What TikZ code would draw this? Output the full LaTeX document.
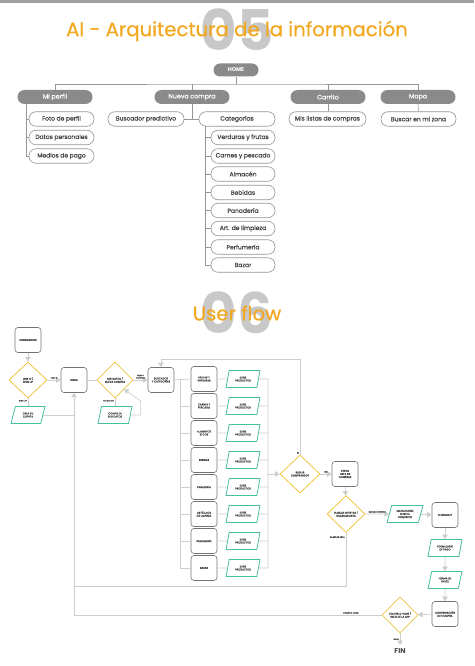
\documentclass[tikz,border=0pt]{standalone}
\usepackage{fontspec}
\setmainfont{Poppins}[UprightFeatures={FakeBold=0.5}]
\usetikzlibrary{shapes.geometric, arrows.meta}
\definecolor{titleor}{RGB}{242,168,32}
\definecolor{numgray}{RGB}{200,200,200}
\definecolor{pillgray}{RGB}{138,138,138}
\definecolor{edgegray}{RGB}{150,150,150}
\definecolor{flowline}{RGB}{205,205,205}
\definecolor{boxgray}{RGB}{115,115,115}
\definecolor{decgold}{RGB}{240,196,64}
\definecolor{ioteal}{RGB}{72,190,160}
\definecolor{txtgray}{RGB}{70,70,70}

\begin{document}
\begin{tikzpicture}[x=1pt,y=-1pt,
  tree/.style={draw=edgegray, line width=0.6},
  toppill/.style={fill=pillgray, text=white, rounded corners=6.5, minimum width=45, minimum height=13, inner sep=1, font=\fontsize{5.5}{6}\selectfont\bfseries},
  sect/.style={fill=pillgray, text=white, rounded corners=7, minimum width=75, minimum height=14, inner sep=1, font=\fontsize{6.3}{7}\selectfont},
  leaf/.style={draw=edgegray, line width=0.6, fill=white, text=txtgray, rounded corners=7, minimum width=64, minimum height=14.5, inner sep=1, font=\fontsize{6}{7}\selectfont},
  proc/.style={draw=boxgray, line width=0.6, rounded corners=3, minimum width=26, minimum height=25, inner sep=0.5, align=center, text=txtgray, font=\fontsize{2.6}{3.1}\selectfont},
  dec/.style={diamond, draw=decgold, line width=0.8, minimum width=38, minimum height=36, inner sep=0, align=center, text=txtgray, font=\fontsize{2.6}{3.1}\selectfont},
  io/.style={trapezium, trapezium left angle=70, trapezium right angle=110, trapezium stretches=true, draw=ioteal, line width=0.8, minimum width=34, minimum height=17, inner sep=0, align=center, text=txtgray, font=\fontsize{2.6}{3.1}\selectfont},
  flw/.style={draw=flowline, line width=0.7},
  flarr/.style={flw, -{Triangle[length=4.5,width=5.5]}},
  lab/.style={text=txtgray, inner sep=1, align=center, font=\fontsize{2}{2.4}\selectfont},
  bignum/.style={text=numgray, inner sep=0, text depth=0, font=\fontsize{56}{56}\selectfont\bfseries},
  ttl/.style={text=titleor, inner sep=0, font=\fontsize{19.7}{21}\selectfont}]
\useasboundingbox (0,0) rectangle (474,666);
%top strip
\fill[gray!75] (0,0) rectangle (474,3);

%Title 05
\node[bignum] (num05) at (237,30) {05};
\node[ttl] (title05) at (237,31) {AI - Arquitectura de la información};

%Tree: home and sections
\node[toppill] (home) at (236,70) {HOME};
\node[sect] (perfil) at (55,97) {Mi perfil};
\node[sect] (compra) at (192,97) {Nueva compra};
\node[sect] (carrito) at (328,97) {Carrito};
\node[sect] (mapa) at (418,97) {Mapa};
\coordinate (bar) at (236,84);
\draw[tree] (home.south) -- (bar);
\draw[tree] (perfil.north) |- (bar) -| (mapa.north);
\draw[tree] (compra.north) -- (compra.north |- bar);
\draw[tree] (carrito.north) -- (carrito.north |- bar);

%Mi perfil
\node[leaf, minimum width=65] (foto) at (61.5,119) {Foto de perfil};
\node[leaf, minimum width=65] (datos) at (61.5,137.5) {Datos personales};
\node[leaf, minimum width=65] (medios) at (61.5,156) {Medios de pago};
\coordinate (pf) at (26,104);
\draw[tree] (pf) |- (medios.west);
\draw[tree] (pf |- foto) -- (foto.west);
\draw[tree] (pf |- datos) -- (datos.west);

%Nueva compra
\node[leaf, minimum width=76] (busc) at (146,119) {Buscador predictivo};
\node[leaf, minimum width=76] (categ) at (237,119) {Categorías};
\draw[tree] (compra.south) -- (compra.south |- categ);
\draw[tree] (busc.east) -- (categ.west);

%Categorias
\node[leaf] (verd) at (243,137.5) {Verduras y frutas};
\node[leaf] (carn) at (243,156) {Carnes y pescado};
\node[leaf] (alma) at (243,174) {Almacén};
\node[leaf] (bebi) at (243,192.5) {Bebidas};
\node[leaf] (pana) at (243,210.5) {Panadería};
\node[leaf] (limp) at (243,228.5) {Art. de limpieza};
\node[leaf] (perf) at (243,247) {Perfumería};
\node[leaf] (baza) at (243,265) {Bazar};
\coordinate (cg) at (205,126.25);
\draw[tree] (cg) |- (baza.west);
\draw[tree] (cg |- verd) -- (verd.west);
\draw[tree] (cg |- carn) -- (carn.west);
\draw[tree] (cg |- alma) -- (alma.west);
\draw[tree] (cg |- bebi) -- (bebi.west);
\draw[tree] (cg |- pana) -- (pana.west);
\draw[tree] (cg |- limp) -- (limp.west);
\draw[tree] (cg |- perf) -- (perf.west);

%Carrito, Mapa
\node[leaf, minimum width=77] (listas) at (327.5,119) {Mis listas de compras};
\node[leaf, minimum width=75] (zona) at (418.5,119) {Buscar en mi zona};
\draw[tree] (carrito.south) -- (carrito.south |- listas.north);
\draw[tree] (mapa.south) -- (zona.north);

%Title 06
\node[bignum] (num06) at (237,313) {06};
\node[ttl] (title06) at (237,313) {User flow};

%Flow: start
\node[proc] (onb) at (28,340) {ONBOARDING};
\node[dec] (login) at (28,380) {LOG IN /\\SIGN UP};
\node[io] (crea) at (28,415) {CREA SU\\CUENTA};
\node[proc] (home2) at (74,380) {HOME};
\node[dec, minimum width=36] (misdat) at (115,380) {MIS DATOS /\\NUEVA COMPRA};
\node[io] (completa) at (115,415) {COMPLETA\\SUS DATOS};
\node[proc] (buscat) at (161,380) {BUSCADOR\\Y CATEGORÍAS};

\draw[flarr] (onb) -- (login);
\draw[flarr] (login) -- node[lab, above]{LOG IN} (home2);
\draw[flw] (login) -- node[lab, left, pos=0.3]{SIGN UP} (crea);
\draw[flw] (home2) -- (misdat);
\draw[flarr] (misdat) -- node[lab, above]{NUEVA\\COMPRA} (buscat);
\draw[flw] (misdat) -- node[lab, left, pos=0.3]{MIS DATOS} (completa);
\draw[flarr] (completa.east) -- ++(10,0) -- ++(0,-14) -- (misdat.south east);

%Flow: categorias
\node[proc] (c1) at (204,379) {FRUTAS Y\\VERDURAS};
\node[proc] (c2) at (204,406) {CARNES Y\\PESCADO};
\node[proc] (c3) at (204,433) {ALIMENTOS\\SECOS};
\node[proc] (c4) at (204,460) {BEBIDAS};
\node[proc] (c5) at (204,487) {PANADERÍA};
\node[proc] (c6) at (204,514) {ARTÍCULOS\\DE LIMPIEZA};
\node[proc] (c7) at (204,541) {PERFUMERÍA};
\node[proc] (c8) at (204,568) {BAZAR};
\node[io] (e1) at (243,379) {ELIGE\\PRODUCTOS};
\node[io] (e2) at (243,406) {ELIGE\\PRODUCTOS};
\node[io] (e3) at (243,433) {ELIGE\\PRODUCTOS};
\node[io] (e4) at (243,460) {ELIGE\\PRODUCTOS};
\node[io] (e5) at (243,487) {ELIGE\\PRODUCTOS};
\node[io] (e6) at (243,514) {ELIGE\\PRODUCTOS};
\node[io] (e7) at (243,541) {ELIGE\\PRODUCTOS};
\node[io] (e8) at (243,568) {ELIGE\\PRODUCTOS};

\draw[flw] (buscat.east) -- (c1.west);
\coordinate (cx) at (180,379);
\draw[flw] (cx) |- (c8.west);
\draw[flw] (cx |- c2) -- (c2.west);
\draw[flw] (cx |- c3) -- (c3.west);
\draw[flw] (cx |- c4) -- (c4.west);
\draw[flw] (cx |- c5) -- (c5.west);
\draw[flw] (cx |- c6) -- (c6.west);
\draw[flw] (cx |- c7) -- (c7.west);
\draw[flw] (c1) -- (e1);
\draw[flw] (c2) -- (e2);
\draw[flw] (c3) -- (e3);
\draw[flw] (c4) -- (e4);
\draw[flw] (c5) -- (e5);
\draw[flw] (c6) -- (e6);
\draw[flw] (c7) -- (e7);
\draw[flw] (c8) -- (e8);
\coordinate (ex) at (268,379);
\draw[flw] (e1.east) -- (ex) |- (e8.east);
\draw[flw] (e2.east) -- (e2 -| ex);
\draw[flw] (e3.east) -- (e3 -| ex);
\draw[flw] (e4.east) -- (e4 -| ex);
\draw[flw] (e5.east) -- (e5 -| ex);
\draw[flw] (e6.east) -- (e6 -| ex);
\draw[flw] (e7.east) -- (e7 -| ex);

%Flow: compra
\node[dec, minimum width=40, minimum height=38] (seguir) at (300,474) {SEGUIR\\COMPRANDO?};
\node[proc] (lista) at (345,474) {VER MI\\LISTA DE\\COMPRAS};
\node[dec, minimum height=37] (ofertas) at (346,514) {BUSCAR OFERTAS /\\GUARDAR LISTA};
\node[io, minimum width=36] (mapa2) at (405,514) {MAPA DONDE\\ELIGE EL\\COMERCIO};
\node[proc] (checkout) at (445,515) {CHECKOUT};
\node[io] (form) at (445,548) {FORMULARIO\\DE PAGO};
\node[io] (envio) at (445,580) {FORMA DE\\ENVÍO};
\node[proc] (confirm) at (445,614) {CONFIRMACIÓN\\DE COMPRA};
\node[dec, minimum width=36] (volver) at (400,615) {VOLVER A HOME /\\SALIR DE LA APP};
\node[text=txtgray, font=\fontsize{7}{8}\selectfont\bfseries] (fin) at (400,651) {FIN};

\draw[flarr] (ex |- seguir) -- (seguir.west);
\draw[flarr] (seguir.north) -- node[lab, left, pos=0.02]{SÍ} (300,359) -| (buscat.north);
\draw[flarr] (seguir) -- node[lab, above]{NO} (lista);
\draw[flarr] (lista) -- (ofertas);
\draw[flarr] (ofertas) -- node[lab, above]{BUSCAR OFERTAS} (mapa2);
\draw[flarr] (mapa2) -- (checkout);
\draw[flarr] (checkout) -- (form);
\draw[flarr] (form) -- (envio);
\draw[flarr] (envio) -- (confirm);
\draw[flarr] (confirm) -- (volver);
\draw[flarr] (volver) -- node[lab, left]{SALIR} (fin);

%Flow: regreso a home
\draw[flarr] (volver.west) -- node[lab, above, pos=0.1]{VOLVER A HOME} (volver.west -| home2.south) -- (home2.south);
\draw[flw] (ofertas.south) -- node[lab, left, pos=0.08]{GUARDAR LISTA} (ofertas.south |- 0,586) -- (home2.south |- 0,586);
\draw[flw] (crea.east) -- (crea.east -| home2.south);
\end{tikzpicture}
\end{document}
